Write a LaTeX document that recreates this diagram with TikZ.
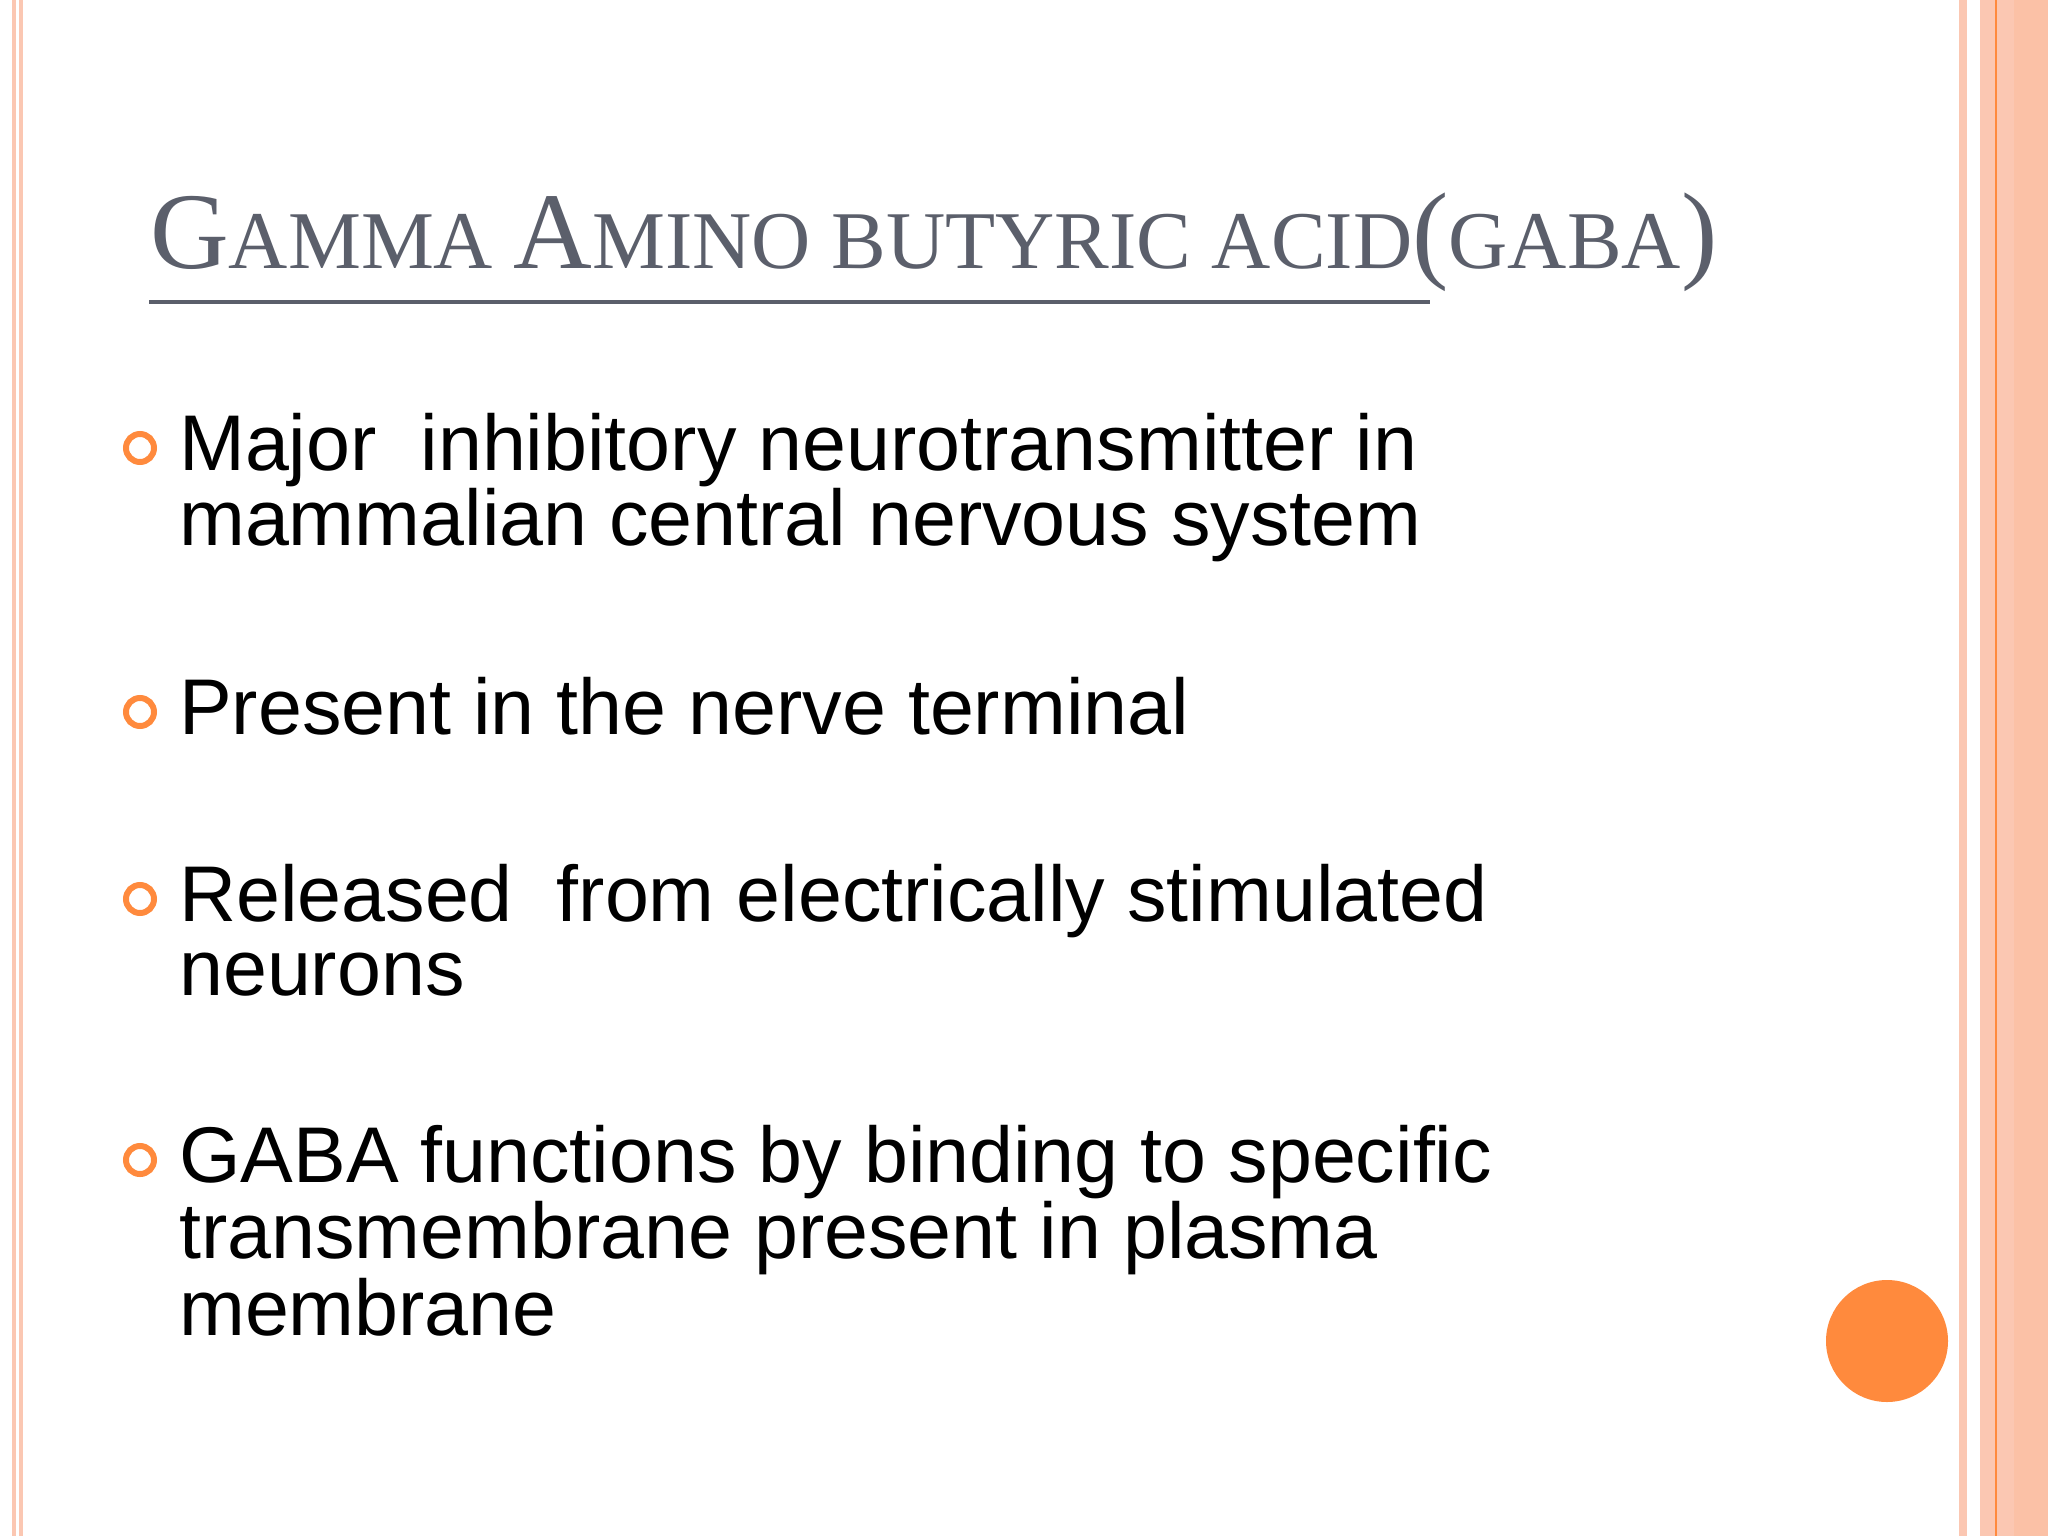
\documentclass[tikz,border=0pt]{standalone}
\usepackage{fontspec}
\setmainfont{Liberation Serif}
\newfontfamily\arialf{Liberation Sans}
\definecolor{pinkb}{HTML}{FBC7B2}
\definecolor{orng}{HTML}{FF8A3D}
\definecolor{ttl}{HTML}{5B5F6B}
\begin{document}
\begin{tikzpicture}[x=1pt,y=-1pt,
  bul/.style={circle,draw=orng,line width=6pt,minimum size=28pt,inner sep=0pt},
  btxt/.style={anchor=base west,inner sep=0pt,font=\arialf\fontsize{79}{75}\selectfont}]
\useasboundingbox (0,0) rectangle (2048,1536);
\fill[white] (0,0) rectangle (2048,1536);
% left borders
\fill[pinkb] (12,0) rectangle (16,1536);
\fill[pinkb] (19,0) rectangle (23,1536);
% right borders
\fill[pinkb] (1959,0) rectangle (1967,1536);
\fill[pinkb] (1980,0) rectangle (2048,1536);
\fill[pinkb!90!orng] (2014,0) rectangle (2048,1536);
\fill[orng] (1995,0) rectangle (1997,1536);
% title
\node[anchor=base west,inner sep=0pt,text=ttl] (title) at (150,268)
 {\fontsize{109}{109}\selectfont G\fontsize{82}{82}\selectfont AMMA \fontsize{109}{109}\selectfont A\fontsize{82}{82}\selectfont MINO BUTYRIC ACID\fontsize{109}{109}\selectfont(\fontsize{82}{82}\selectfont GABA\fontsize{109}{109}\selectfont)};
\draw[ttl,line width=4pt] (149,302) -- (1430,302);
% bullets
\node[bul] (b1) at (140,448) {};
\node[btxt] (t1a) at (179,470) {Major\ \ inhibitory neurotransmitter in};
\node[btxt] (t1b) at (179,545) {mammalian central nervous system};
\node[bul] (b2) at (140,712) {};
\node[btxt] (t2) at (179,734) {Present in the nerve terminal};
\node[bul] (b3) at (140,899) {};
\node[btxt] (t3a) at (179,921) {Released\ \ from electrically stimulated};
\node[btxt] (t3b) at (179,995) {neurons};
\node[bul] (b4) at (140,1160) {};
\node[btxt] (t4a) at (179,1182) {GABA functions by binding to specific};
\node[btxt] (t4b) at (179,1258) {transmembrane present in plasma};
\node[btxt] (t4c) at (179,1335) {membrane};
\node[circle,fill=orng,minimum size=122pt,inner sep=0pt] (dot) at (1887,1341) {};
\end{tikzpicture}
\end{document}
